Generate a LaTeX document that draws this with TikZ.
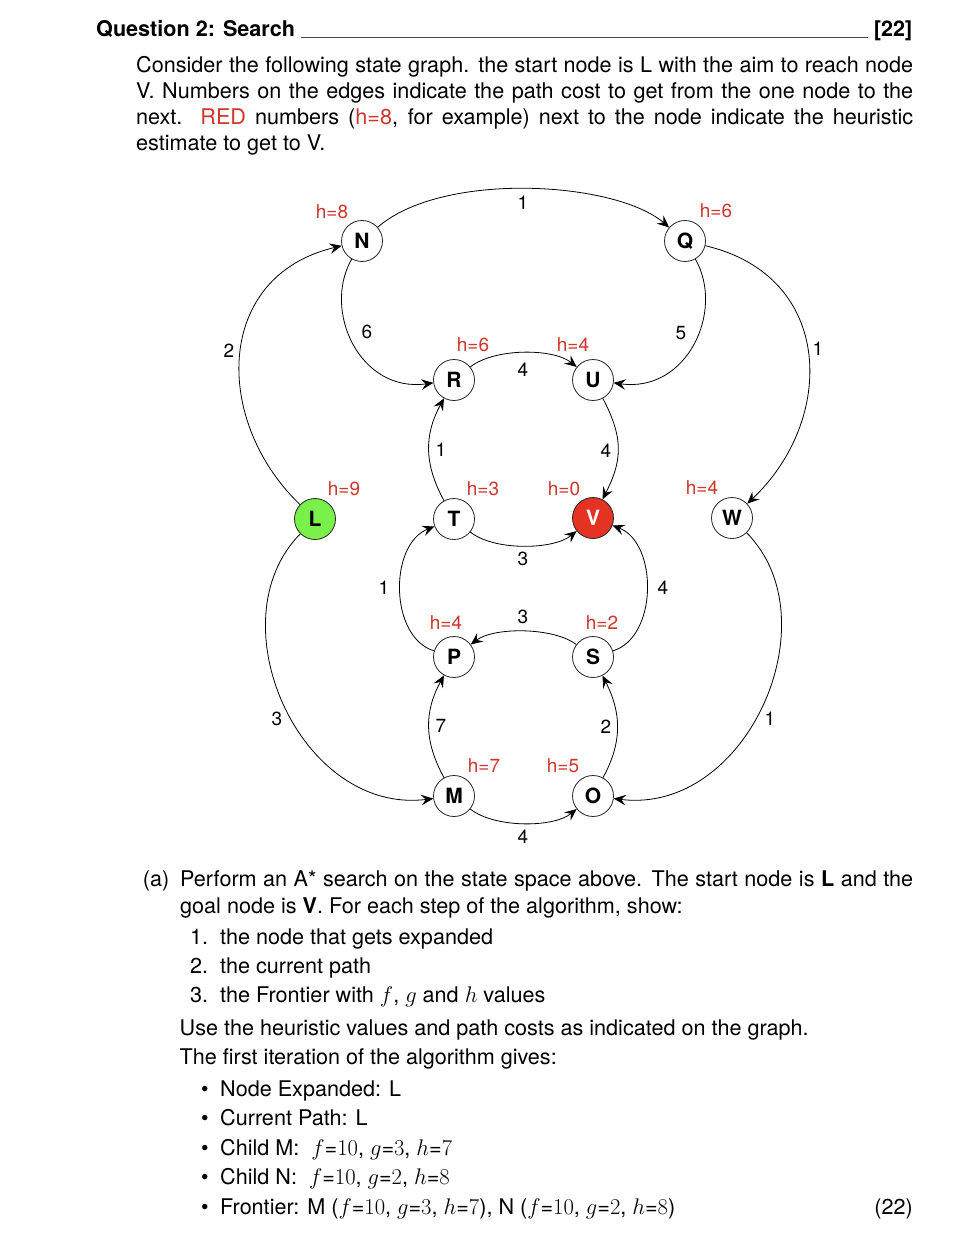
\RequirePackage{fix-cm}
\documentclass[tikz,border=0pt]{standalone}
\usepackage{fontspec}
\setmainfont{TeX Gyre Heros}
\usetikzlibrary{arrows.meta}
\definecolor{hred}{RGB}{205,55,45}
\definecolor{vred}{RGB}{228,50,35}
\definecolor{lgreen}{RGB}{122,240,74}
\newcommand\mv[1]{{\fontsize{22.6}{26}\selectfont$#1$}}
\begin{document}
\begin{tikzpicture}[x=1pt,y=-1pt,
  st/.style={circle,draw=black!85,line width=0.8pt,minimum size=41pt,inner sep=0pt,font=\fontsize{21}{21}\selectfont\bfseries},
  hl/.style={text=hred,font=\fontsize{19}{19}\selectfont,inner sep=0pt},
  el/.style={font=\fontsize{19}{19}\selectfont,inner sep=0pt},
  edge/.style={line width=0.8pt,-{Stealth[length=12pt,width=10.5pt,inset=4.5pt]}},
  txt/.style={anchor=base west,inner sep=0pt,font=\fontsize{21.6}{26}\selectfont},
  txr/.style={anchor=base east,inner sep=0pt,font=\fontsize{21.6}{26}\selectfont},
  bul/.style={anchor=base,inner sep=0pt,font=\fontsize{21.6}{26}\selectfont},
]
\useasboundingbox (0,0) rectangle (970,1260);
\fill[white] (0,0) rectangle (970,1260);

% heading
\node[txt,font=\fontsize{21.6}{26}\selectfont\bfseries] (head) at (96,37) {Question 2: Search};
\node[txr,font=\fontsize{21.6}{26}\selectfont\bfseries] (marks) at (912.5,37) {[22]};
\coordinate (rs) at (301,37.7);
\coordinate (re) at (868,37.7);
\draw[line width=0.8pt,black!70] (rs) -- (re);

% intro paragraph
\node[txt] (p1) at (136,72.5) {\makebox[777pt][s]{Consider the following state graph. the start node is L with the aim to reach node}};
\node[txt] (p2) at (136,98.5) {\makebox[777pt][s]{V. Numbers on the edges indicate the path cost to get from the one node to the}};
\node[txt] (p3) at (136,124.5) {\makebox[777pt][s]{next.\ \ {\color{hred}RED} numbers ({\color{hred}h=8}, for example) next to the node indicate the heuristic}};
\node[txt] (p4) at (136,150.5) {estimate to get to V.};

% states
\node[st] (N) at (362,241) {N};
\node[st] (Q) at (685,241) {Q};
\node[st] (R) at (454,380) {R};
\node[st] (U) at (593,380) {U};
\node[st,fill=lgreen] (L) at (315,519) {L};
\node[st] (T) at (454,519) {T};
\node[st,fill=vred,text=white] (V) at (593,518) {V};
\node[st] (W) at (732,518) {W};
\node[st] (P) at (454,657) {P};
\node[st] (S) at (593,657) {S};
\node[st] (M) at (454,796) {M};
\node[st] (O) at (593,796) {O};

% heuristics
\node[hl] (hN) at (332,212) {h=8};
\node[hl] (hQ) at (716,211) {h=6};
\node[hl] (hR) at (473,345) {h=6};
\node[hl] (hU) at (573,345) {h=4};
\node[hl] (hL) at (344,489) {h=9};
\node[hl] (hT) at (483,489) {h=3};
\node[hl] (hV) at (564,489) {h=0};
\node[hl] (hW) at (702,488) {h=4};
\node[hl] (hP) at (446,623) {h=4};
\node[hl] (hS) at (602,623) {h=2};
\node[hl] (hM) at (484,766) {h=7};
\node[hl] (hO) at (563,766) {h=5};

% edges
\draw[edge] (L) .. controls +(-102,-98) and +(-148,35) .. (N);
\draw[edge] (N) .. controls +(80,-70) and +(-70,-60) .. (Q);
\draw[edge] (N) .. controls +(-40,70) and +(-94,13) .. (R);
\draw[edge] (Q) .. controls +(40,70) and +(94,13) .. (U);
\draw[edge] (Q) .. controls +(150,35) and +(104,-98) .. (W);
\draw[edge] (R) .. controls +(40,-32) and +(-40,-32) .. (U);
\draw[edge] (U) .. controls +(32,60) and +(28,-55) .. (V);
\draw[edge] (T) .. controls +(-30,-55) and +(-30,55) .. (R);
\draw[edge] (T) .. controls +(40,32) and +(-40,32) .. (V);
\draw[edge] (P) .. controls +(-65,-20) and +(-65,25) .. (T);
\draw[edge] (S) .. controls +(65,-20) and +(65,25) .. (V);
\draw[edge] (S) .. controls +(-40,-30) and +(40,-30) .. (P);
\draw[edge] (M) .. controls +(-30,-55) and +(-30,55) .. (P);
\draw[edge] (O) .. controls +(30,-55) and +(28,55) .. (S);
\draw[edge] (M) .. controls +(40,32) and +(-40,32) .. (O);
\draw[edge] (L) .. controls +(-101,102) and +(-154,19) .. (M);
\draw[edge] (W) .. controls +(101,102) and +(154,19) .. (O);

% edge costs
\node[el] (cLN) at (229,351) {2};
\node[el] (cNQ) at (523,203) {1};
\node[el] (cNR) at (367,332) {6};
\node[el] (cQU) at (681,333) {5};
\node[el] (cQW) at (818,349) {1};
\node[el] (cRU) at (523,370) {4};
\node[el] (cUV) at (606,451) {4};
\node[el] (cTR) at (441,450) {1};
\node[el] (cTV) at (523,559) {3};
\node[el] (cPT) at (384,588) {1};
\node[el] (cSV) at (663,588) {4};
\node[el] (cSP) at (523,617) {3};
\node[el] (cMP) at (441,726) {7};
\node[el] (cOS) at (606,727) {2};
\node[el] (cMO) at (523,837) {4};
\node[el] (cLM) at (277,719) {3};
\node[el] (cWO) at (770,719) {1};

% part (a)
\node[txt] (qa) at (142.7,886.7) {(a)};
\node[txt] (a1) at (180,886.7) {\makebox[733pt][s]{Perform an A* search on the state space above. The start node is \textbf{L} and the}};
\node[txt] (a2) at (180,913) {goal node is \textbf{V}. For each step of the algorithm, show:};
\node[txt] (n1) at (190,944.5) {1.};
\node[txt] (i1) at (220,944.5) {the node that gets expanded};
\node[txt] (n2) at (190,973.5) {2.};
\node[txt] (i2) at (220,973.5) {the current path};
\node[txt] (n3) at (190,1002.5) {3.};
\node[txt] (i3) at (220,1002.5) {the Frontier with \mv{f}, \mv{g} and \mv{h} values};
\node[txt] (u1) at (179.5,1035.5) {Use the heuristic values and path costs as indicated on the graph.};
\node[txt] (u2) at (179.5,1064) {The first iteration of the algorithm gives:};
\node[bul] (b1) at (205,1096) {\textbullet};
\node[txt] (t1) at (220,1096) {Node Expanded: L};
\node[bul] (b2) at (205,1125.5) {\textbullet};
\node[txt] (t2) at (220,1125.5) {Current Path: L};
\node[bul] (b3) at (205,1155) {\textbullet};
\node[txt] (t3) at (220,1155) {Child M:\ \ \mv{f}=\mv{10}, \mv{g}=\mv{3}, \mv{h}=\mv{7}};
\node[bul] (b4) at (205,1184.5) {\textbullet};
\node[txt] (t4) at (220,1184.5) {Child N:\ \ \mv{f}=\mv{10}, \mv{g}=\mv{2}, \mv{h}=\mv{8}};
\node[bul] (b5) at (205,1214) {\textbullet};
\node[txt] (t5) at (220,1214) {Frontier: M (\mv{f}=\mv{10}, \mv{g}=\mv{3}, \mv{h}=\mv{7}), N (\mv{f}=\mv{10}, \mv{g}=\mv{2}, \mv{h}=\mv{8})};
\node[txr] (mk) at (913,1214) {(22)};
\end{tikzpicture}
\end{document}
